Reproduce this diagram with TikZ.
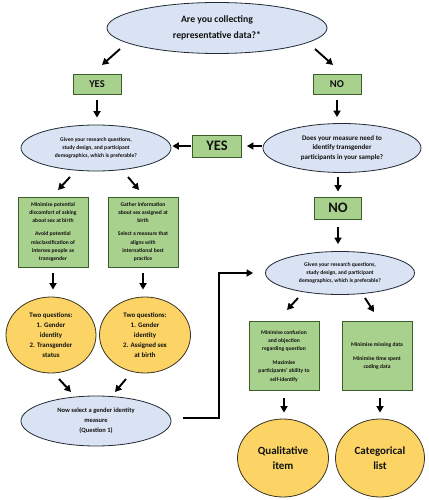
\documentclass[tikz,border=0pt]{standalone}
\usepackage{fontspec}
\setmainfont{Carlito}
\usetikzlibrary{shapes.geometric,arrows.meta,calc}
\definecolor{ellfill}{HTML}{DAE3F3}
\definecolor{elldraw}{HTML}{222A35}
\definecolor{grfill}{HTML}{A9D18E}
\definecolor{grdraw}{HTML}{3B5E2B}
\definecolor{yefill}{HTML}{FCD466}
\definecolor{yedraw}{HTML}{3A3420}
\definecolor{txt}{HTML}{111111}
\tikzset{
  qell/.style={ellipse,draw=elldraw,fill=ellfill,line width=0.8pt,inner sep=0pt,align=center,text=txt},
  gbox/.style={rectangle,draw=grdraw,fill=grfill,line width=0.9pt,inner sep=0pt,align=center,text=txt},
  yell/.style={ellipse,draw=yedraw,fill=yefill,line width=0.8pt,inner sep=0pt,align=center,text=txt},
  fsmall/.style={font=\bfseries\fontsize{5.6}{8.3}\selectfont},
  arr/.style={draw=black,line width=1.9pt,-{Triangle[length=6.5pt,width=7pt]}},
}
\begin{document}
\begin{tikzpicture}[x=1pt,y=-1pt]
\useasboundingbox (0,0) rectangle (428,500);
% nodes
\node[qell,minimum width=220pt,minimum height=51pt,font=\bfseries\fontsize{9.7}{16}\selectfont] (top) at (217,28)
  {Are you collecting\\representative data?*};
\node[gbox,minimum width=48pt,minimum height=20pt,font=\bfseries\fontsize{10.5}{12}\selectfont] (yes1) at (97,84) {YES};
\node[gbox,minimum width=48pt,minimum height=20pt,font=\bfseries\fontsize{10.5}{12}\selectfont] (no1) at (337,84) {NO};
\node[qell,fsmall,minimum width=150pt,minimum height=46pt] (q2L) at (96,148)
  {Given your research questions,\\study design, and participant\\demographics, which is preferable?};
\node[qell,minimum width=158pt,minimum height=49pt,font=\bfseries\fontsize{7}{9.5}\selectfont] (q2R) at (342,148)
  {Does your measure need to\\identify transgender\\participants in your sample?};
\node[gbox,minimum width=49pt,minimum height=22pt,font=\bfseries\fontsize{14.5}{15}\selectfont] (yes2) at (217,146) {YES};
\node[gbox,minimum width=47pt,minimum height=22pt,font=\bfseries\fontsize{14.5}{15}\selectfont] (no2) at (338,208) {NO};
\node[qell,fsmall,minimum width=149pt,minimum height=43pt] (q3) at (340,273)
  {Given your research questions,\\study design, and participant\\demographics, which is preferable?};
\node[gbox,fsmall,minimum width=70pt,minimum height=70pt] (gA) at (53,232)
  {Minimise potential\\discomfort of asking\\about sex at birth\\[4.8pt]Avoid potential\\misclassification of\\intersex people as\\transgender};
\node[gbox,fsmall,minimum width=70pt,minimum height=70pt] (gB) at (143,232)
  {Gather information\\about sex assigned at\\birth\\[4.8pt]Select a measure that\\aligns with\\international best\\practice};
\node[yell,minimum width=90pt,minimum height=76pt,font=\bfseries\fontsize{6.9}{10}\selectfont] (yA) at (51,335)
  {Two questions:\\1. Gender\\identity\\2. Transgender\\status};
\node[yell,minimum width=91pt,minimum height=76pt,font=\bfseries\fontsize{6.9}{10}\selectfont] (yB) at (145,335)
  {Two questions:\\1. Gender\\identity\\2. Assigned sex\\at birth};
\node[qell,minimum width=150pt,minimum height=50pt,font=\bfseries\fontsize{6.5}{10}\selectfont] (now) at (96,421)
  {Now select a gender identity\\measure\\(Question 1)};
\node[gbox,fsmall,minimum width=70pt,minimum height=69pt] (gC) at (284,356)
  {Minimise confusion\\and objection\\regarding question\\[5.5pt]Maximise\\participants' ability to\\self-identify};
\node[gbox,fsmall,minimum width=70pt,minimum height=69pt] (gD) at (377,356)
  {Minimise missing data\\[5.5pt]Minimise time spent\\coding data};
\node[yell,minimum width=91pt,minimum height=78pt,font=\bfseries\fontsize{11}{14.5}\selectfont] (qual) at (283,458)
  {Qualitative\\item};
\node[yell,minimum width=89pt,minimum height=78pt,font=\bfseries\fontsize{11}{14.5}\selectfont] (cat) at (380,458)
  {Categorical\\list};
% connectors
\draw[arr] ($(top)+(-97,21)$) -- ($(yes1)+(5,-19)$);
\draw[arr] ($(top)+(98,21)$) -- ($(no1)+(-4,-19)$);
\draw[arr,shorten <=6pt,shorten >=7pt] (yes1.south) -- (yes1.south |- q2L.north);
\draw[arr,shorten <=6pt,shorten >=6pt] (no1.south) -- (no1.south |- q2R.north);
\draw[arr,shorten <=1pt,shorten >=5pt] (q2R.west |- yes2) -- (yes2.east);
\draw[arr,shorten <=1pt,shorten >=1pt] (yes2.west) -- (q2L.east |- yes2);
\draw[arr,shorten <=4pt,shorten >=5pt] (q2R.south -| no2) -- (no2.north);
\draw[arr,shorten <=8pt,shorten >=7pt] (no2.south) -- (no2.south |- q3.north);
\draw[arr] ($(q2L)+(-26,29)$) -- ($(gA)+(5,-42)$);
\draw[arr] ($(q2L)+(32,29)$) -- ($(gB)+(-4,-42)$);
\draw[arr,shorten <=6pt,shorten >=7pt] (gA.south) -- (gA.south |- yA.north);
\draw[arr,shorten <=6pt,shorten >=7pt] (gB.south) -- (gB.south |- yB.north);
\draw[arr] ($(yA)+(8,44)$) -- ($(now)+(-25,-29)$);
\draw[arr] ($(yB)+(-19,44)$) -- ($(now)+(19,-29)$);
\draw[arr] ($(now.east)+(12,-3)$) -| ($(now.east |- q3)+(48,0)$) -- ($(q3.west)+(-12,0)$);
\draw[arr] ($(q3)+(-42,25)$) -- ($(gC)+(3,-46)$);
\draw[arr] ($(q3)+(25,25)$) -- ($(gD)+(-3,-44)$);
\draw[arr,shorten <=7pt,shorten >=6pt] (gC.south) -- (gC.south |- qual.north);
\draw[arr,shorten <=7pt,shorten >=6pt] (gD.south -| cat) -- (cat.north);
\end{tikzpicture}
\end{document}
